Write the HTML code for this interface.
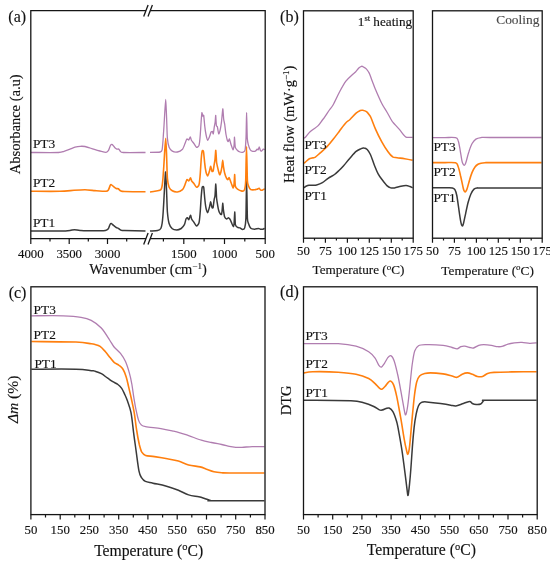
<!DOCTYPE html>
<html><head><meta charset="utf-8"><title>Figure</title>
<style>
html,body{margin:0;padding:0;background:#fff;}
svg{display:block;font-family:"Liberation Serif","Times New Roman",serif;}
</style></head><body>
<svg width="550" height="563" viewBox="0 0 550 563">
<rect width="550" height="563" fill="#fff"/>
<path d="M31.0,231.0C34.5,231.0 55.3,231.1 60.0,231.0C64.7,230.9 68.3,230.6 70.0,230.4C71.7,230.2 73.3,229.7 74.5,229.7C75.7,229.7 78.1,230.3 80.0,230.4C81.9,230.5 87.0,230.8 90.0,230.8C93.0,230.8 103.2,230.7 105.4,230.4C107.6,230.1 107.7,229.4 108.3,228.7C108.9,228.0 109.7,224.9 110.1,224.3C110.5,223.7 110.9,223.5 111.3,223.6C111.7,223.7 113.0,225.0 113.6,225.5C114.2,226.0 115.6,227.2 116.2,227.5C116.8,227.8 117.8,228.0 118.3,228.3C118.8,228.6 119.9,229.7 120.6,230.0C121.3,230.3 121.5,230.5 124.5,230.6C127.5,230.7 143.0,230.9 145.5,230.9" stroke="#3A3A3A" stroke-width="1.5" fill="none" stroke-linejoin="round"/>
<path d="M150.0,231.1C150.8,231.0 156.5,230.8 157.6,230.5C158.7,230.2 160.4,229.2 160.8,228.5C161.2,227.8 161.8,225.5 162.1,223.5C162.4,221.5 163.2,211.9 163.4,208.2C163.7,204.5 164.4,190.1 164.6,186.5C164.8,182.9 165.4,171.6 165.6,171.9C165.8,172.2 166.3,185.1 166.5,189.1C166.7,193.1 167.1,208.6 167.4,212.0C167.7,215.4 168.6,221.8 169.1,223.5C169.6,225.2 171.5,228.1 172.3,228.8C173.1,229.5 175.8,230.1 176.7,230.1C177.6,230.1 180.4,229.0 181.2,228.5C182.0,228.0 183.9,225.6 184.4,224.7C184.9,223.8 185.7,219.7 186.0,219.0C186.3,218.3 187.0,217.6 187.3,217.7C187.6,217.8 188.5,219.8 188.8,219.6C189.1,219.3 190.2,215.3 190.5,215.2C190.8,215.1 191.3,218.3 191.6,219.0C191.9,219.7 193.4,221.5 193.9,222.2C194.4,222.9 196.0,225.9 196.5,226.0C197.0,226.1 198.6,224.3 199.0,222.8C199.4,221.3 200.1,213.4 200.3,210.7C200.5,208.0 201.1,197.8 201.3,195.5C201.5,193.2 202.0,188.0 202.2,187.2C202.4,186.4 203.4,186.1 203.7,187.2C203.9,188.3 204.5,195.9 204.7,198.0C204.9,200.1 205.7,206.7 206.0,208.2C206.3,209.7 207.3,212.8 207.7,212.6C208.1,212.4 209.3,207.7 209.6,206.6C209.9,205.5 210.5,201.7 210.7,201.8C210.9,201.9 211.8,206.9 212.0,207.5C212.2,208.1 212.9,208.3 213.1,207.5C213.3,206.7 214.0,200.5 214.2,199.3C214.4,198.1 214.8,197.3 215.0,195.8C215.2,194.3 215.6,183.8 215.8,184.0C216.0,184.2 216.4,196.1 216.6,198.3C216.8,200.5 217.5,204.3 217.7,205.6C217.9,206.9 218.7,210.7 219.0,211.5C219.3,212.3 220.1,213.6 220.3,213.9C220.6,214.2 221.3,214.9 221.5,214.5C221.7,214.1 222.1,210.6 222.2,209.5C222.3,208.4 222.7,203.2 222.8,203.3C222.9,203.4 223.3,209.3 223.5,210.7C223.7,212.1 224.4,216.3 224.7,217.1C225.0,217.9 226.2,218.9 226.6,219.0C227.0,219.1 228.2,217.7 228.5,217.7C228.8,217.7 229.5,218.6 229.8,219.0C230.1,219.4 231.0,221.4 231.3,222.2C231.7,223.0 233.0,226.5 233.3,226.6C233.6,226.7 233.9,225.0 234.1,223.5C234.2,222.0 234.7,211.9 234.8,212.0C234.9,212.1 235.1,223.2 235.4,224.7C235.7,226.2 237.0,227.0 237.5,227.3C238.0,227.6 239.5,227.7 240.0,227.9C240.5,228.1 242.0,229.6 242.5,229.6C243.0,229.6 244.4,229.0 244.7,227.9C245.0,226.8 245.7,223.1 245.9,218.4C246.1,213.7 246.4,180.6 246.6,180.6C246.8,180.6 247.2,214.1 247.4,218.4C247.6,222.7 248.2,222.5 248.5,223.5C248.8,224.5 250.2,227.7 250.8,228.3C251.4,228.9 253.8,229.2 254.6,229.2C255.4,229.2 257.9,228.5 258.5,228.5C259.1,228.5 260.0,229.1 260.4,229.2C260.8,229.3 262.5,229.3 262.9,229.2C263.3,229.1 264.4,228.4 264.6,228.3" stroke="#3A3A3A" stroke-width="1.5" fill="none" stroke-linejoin="round"/>
<path d="M31.0,191.3C34.5,191.3 54.8,191.4 60.0,191.3C65.2,191.2 71.0,190.5 74.0,190.3C77.0,190.1 82.5,189.8 85.0,189.8C87.5,189.8 92.5,190.4 95.0,190.6C97.5,190.8 104.4,191.4 106.0,191.3C107.6,191.2 108.0,190.5 108.5,189.8C109.0,189.1 109.9,186.0 110.2,185.4C110.5,184.8 110.9,184.6 111.3,184.7C111.7,184.8 113.0,186.1 113.6,186.6C114.2,187.1 115.6,188.2 116.2,188.5C116.8,188.8 117.8,188.5 118.3,188.8C118.8,189.1 119.9,190.5 120.6,190.8C121.3,191.1 121.5,191.4 124.5,191.5C127.5,191.6 143.0,191.7 145.5,191.7" stroke="#FF7F0E" stroke-width="1.6" fill="none" stroke-linejoin="round"/>
<path d="M150.0,192.0C150.8,191.9 156.5,191.0 157.6,190.8C158.7,190.6 160.4,190.3 160.8,189.8C161.2,189.3 161.8,187.8 162.1,186.0C162.4,184.2 163.2,175.3 163.4,172.0C163.7,168.7 164.4,156.3 164.6,152.9C164.8,149.5 165.5,138.3 165.7,138.3C165.9,138.3 166.3,148.9 166.5,152.9C166.7,156.9 167.1,175.0 167.4,178.4C167.7,181.8 168.6,186.1 169.1,187.3C169.6,188.5 171.5,190.3 172.3,190.8C173.1,191.3 176.4,192.1 177.4,192.0C178.4,191.9 181.7,190.3 182.5,189.6C183.3,188.9 184.6,185.7 185.0,184.7C185.4,183.7 186.5,180.0 186.9,179.6C187.3,179.2 188.4,181.1 188.8,180.9C189.2,180.7 190.2,177.7 190.5,177.7C190.8,177.7 191.3,180.3 191.6,180.9C191.9,181.5 193.4,182.9 193.9,183.5C194.4,184.1 196.0,187.2 196.5,187.3C197.0,187.4 198.6,186.1 199.0,184.7C199.4,183.3 200.1,176.0 200.3,173.3C200.5,170.6 201.1,160.2 201.3,158.0C201.5,155.8 202.0,151.6 202.2,151.0C202.4,150.4 203.2,150.4 203.5,151.6C203.8,152.8 204.4,161.1 204.7,163.1C204.9,165.1 205.7,170.7 206.0,172.0C206.3,173.3 207.3,176.1 207.7,176.0C208.1,175.9 209.3,171.7 209.6,170.7C209.9,169.7 210.5,166.2 210.7,166.3C210.9,166.4 211.8,171.0 212.0,171.4C212.2,171.8 213.0,171.4 213.2,170.7C213.4,170.0 214.0,165.5 214.2,164.4C214.4,163.3 214.8,161.0 215.0,159.6C215.2,158.2 215.6,150.1 215.8,150.4C216.0,150.7 216.4,160.8 216.6,162.5C216.8,164.2 217.3,166.0 217.5,166.9C217.7,167.8 218.4,170.7 218.6,171.5C218.8,172.3 219.6,174.8 219.8,174.8C220.0,174.9 220.7,172.8 220.9,172.0C221.1,171.2 221.7,168.1 221.9,166.9C222.1,165.7 222.5,160.3 222.7,160.3C222.9,160.3 223.3,165.6 223.5,166.9C223.7,168.2 224.4,172.2 224.7,173.3C225.0,174.5 226.3,177.8 226.6,178.4C226.9,179.0 227.6,179.7 227.9,179.6C228.2,179.5 228.9,177.4 229.2,177.7C229.5,178.0 230.7,181.8 231.1,182.8C231.5,183.8 232.7,187.7 233.0,187.9C233.3,188.1 233.8,186.0 234.0,184.7C234.2,183.4 234.6,174.4 234.7,174.5C234.8,174.6 235.0,184.5 235.3,186.0C235.6,187.5 236.8,188.7 237.5,189.2C238.2,189.7 241.2,191.0 241.9,191.1C242.6,191.2 244.1,190.8 244.5,189.8C244.9,188.8 245.5,185.2 245.7,180.9C245.9,176.6 246.3,146.5 246.5,146.5C246.7,146.5 247.2,177.0 247.4,180.9C247.6,184.8 248.2,185.1 248.5,186.0C248.8,186.9 250.2,189.2 250.8,189.6C251.4,190.0 254.0,189.8 254.6,189.8C255.2,189.8 256.8,189.3 257.2,189.2C257.6,189.0 258.8,188.2 259.1,188.3C259.4,188.4 260.1,189.6 260.4,189.8C260.7,190.0 261.9,190.2 262.3,190.1C262.7,190.0 264.4,188.9 264.6,188.8" stroke="#FF7F0E" stroke-width="1.6" fill="none" stroke-linejoin="round"/>
<path d="M31.0,152.5C34.3,152.5 54.5,152.6 58.5,152.5C62.5,152.4 62.6,151.7 64.0,151.3C65.4,150.9 68.7,149.6 70.0,149.1C71.3,148.6 73.8,147.5 75.0,147.2C76.2,146.9 79.0,146.4 80.2,146.3C81.4,146.2 83.8,146.3 85.0,146.5C86.2,146.7 88.8,147.6 90.0,148.0C91.2,148.4 94.0,149.3 95.2,149.7C96.4,150.1 98.7,150.7 100.0,151.0C101.3,151.3 105.0,152.4 106.0,152.3C107.0,152.2 108.0,151.2 108.5,150.4C109.0,149.6 110.0,146.0 110.5,145.3C111.0,144.6 111.9,144.3 112.4,144.6C112.9,144.9 114.4,147.3 114.9,147.8C115.4,148.3 116.3,148.9 116.8,149.1C117.3,149.3 118.2,148.8 118.7,149.1C119.2,149.4 120.1,151.2 120.6,151.6C121.1,152.0 120.2,152.4 123.2,152.5C126.2,152.6 142.8,152.5 145.5,152.5" stroke="#B07DB0" stroke-width="1.3" fill="none" stroke-linejoin="round"/>
<path d="M150.0,152.4C151.0,152.4 159.0,152.3 160.2,152.0C161.4,151.7 161.8,151.6 162.1,149.8C162.4,148.1 163.2,137.9 163.4,134.5C163.7,131.1 164.4,119.0 164.6,115.5C164.8,112.0 165.5,99.5 165.7,99.5C165.9,99.5 166.3,111.6 166.5,115.5C166.7,119.4 167.1,135.2 167.4,138.4C167.7,141.6 168.6,146.0 169.1,147.3C169.6,148.6 171.5,150.6 172.3,151.1C173.1,151.6 176.4,152.2 177.4,152.0C178.4,151.8 181.7,150.0 182.5,149.2C183.3,148.3 184.6,144.5 185.0,143.5C185.4,142.5 186.5,139.3 186.9,139.0C187.3,138.7 188.5,140.2 188.8,140.0C189.1,139.8 190.0,136.8 190.3,136.8C190.6,136.8 191.0,139.6 191.4,140.3C191.8,141.0 193.4,142.8 193.9,143.5C194.4,144.2 196.0,147.1 196.5,147.3C197.0,147.5 198.6,146.7 199.0,145.4C199.4,144.1 200.1,137.1 200.3,134.5C200.5,131.9 201.1,121.5 201.3,119.3C201.5,117.1 201.8,113.0 201.9,112.7C202.1,112.4 202.6,115.8 202.8,116.1C203.0,116.4 203.5,114.5 203.7,115.5C203.9,116.5 204.5,123.7 204.7,125.6C204.9,127.5 205.7,133.0 206.0,134.5C206.3,136.0 207.3,140.2 207.7,140.3C208.1,140.4 209.5,136.6 209.8,135.8C210.1,135.0 210.8,132.4 211.1,132.0C211.4,131.6 212.2,131.2 212.4,131.4C212.6,131.6 213.1,134.3 213.3,133.9C213.5,133.5 214.1,128.1 214.3,126.9C214.5,125.7 215.1,122.9 215.2,121.8C215.3,120.7 215.6,115.1 215.7,115.5C215.8,115.9 216.2,124.5 216.4,125.6C216.6,126.7 217.2,126.0 217.4,126.8C217.6,127.6 218.4,133.5 218.7,133.9C219.0,134.3 219.7,131.9 220.0,130.7C220.3,129.5 221.2,124.0 221.5,121.8C221.8,119.6 222.6,109.0 222.8,108.8C223.0,108.5 223.5,117.7 223.7,119.3C223.9,120.9 224.5,122.9 224.7,124.4C224.9,125.9 225.7,132.9 226.0,134.5C226.3,136.1 227.1,139.6 227.3,140.3C227.5,141.0 228.1,141.6 228.3,141.5C228.5,141.4 229.1,138.7 229.4,139.0C229.7,139.3 230.7,143.6 231.1,144.7C231.5,145.8 232.7,149.7 233.0,149.8C233.3,149.9 233.8,147.3 234.0,146.0C234.2,144.7 234.4,137.0 234.5,137.1C234.6,137.2 235.0,146.0 235.3,147.3C235.6,148.6 237.0,150.0 237.5,150.5C238.0,151.0 239.4,151.8 240.0,152.0C240.6,152.2 242.7,152.3 243.2,152.1C243.7,151.9 244.8,151.2 245.1,149.8C245.4,148.4 245.8,142.2 246.0,138.4C246.2,134.7 246.5,112.3 246.6,112.3C246.7,112.3 247.1,135.2 247.3,138.4C247.5,141.6 248.0,143.6 248.3,144.7C248.6,145.8 249.8,149.1 250.2,149.8C250.6,150.5 252.2,151.2 252.7,151.3C253.2,151.4 254.9,151.3 255.3,151.1C255.8,150.9 256.9,149.3 257.2,149.2C257.5,149.1 258.0,150.0 258.2,149.8C258.4,149.6 259.1,146.9 259.3,147.0C259.5,147.1 260.2,150.1 260.4,150.5C260.6,150.9 261.3,151.2 261.6,151.1C261.9,151.0 263.0,149.3 263.3,149.2C263.6,149.1 264.5,149.7 264.6,149.8" stroke="#B07DB0" stroke-width="1.3" fill="none" stroke-linejoin="round"/>
<path d="M303.9,187.8C304.2,187.6 305.1,186.7 306.0,186.3C306.9,185.9 307.8,185.5 309.0,185.3C310.2,185.1 311.7,185.3 313.0,185.2C314.3,185.1 315.0,185.3 316.6,184.9C318.2,184.5 320.5,183.8 322.4,182.7C324.3,181.6 326.1,179.7 328.1,178.3C330.1,176.9 332.6,175.9 334.5,174.5C336.4,173.1 338.0,171.4 339.5,170.0C341.0,168.6 341.7,167.9 343.4,166.0C345.1,164.1 347.6,160.8 349.7,158.4C351.8,156.0 354.2,153.0 356.1,151.4C358.0,149.8 359.9,149.2 361.2,148.6C362.5,148.0 363.0,147.9 364.0,148.1C365.0,148.2 366.1,148.4 367.2,149.5C368.3,150.6 369.2,152.0 370.4,154.5C371.6,157.0 372.9,161.5 374.2,164.7C375.5,167.9 376.7,171.2 378.0,173.6C379.3,176.0 380.3,177.3 381.8,179.3C383.3,181.3 385.4,184.2 386.9,185.6C388.4,187.0 389.4,187.5 390.7,187.9C392.0,188.3 392.8,188.2 394.5,187.9C396.2,187.6 399.0,186.7 400.9,186.3C402.8,185.9 404.5,185.6 406.0,185.6C407.5,185.6 408.7,186.1 409.8,186.5C410.9,186.9 412.1,187.6 412.6,187.8" stroke="#3A3A3A" stroke-width="1.5" fill="none" stroke-linejoin="round"/>
<path d="M303.9,163.2C304.0,163.1 303.6,163.5 304.5,162.8C305.4,162.1 307.8,159.8 309.0,159.0C310.2,158.2 310.9,158.3 312.0,158.0C313.1,157.7 314.0,158.0 315.4,157.1C316.8,156.2 318.6,154.3 320.5,152.6C322.4,150.9 324.7,149.1 326.8,146.9C328.9,144.7 331.1,142.0 333.2,139.3C335.3,136.7 337.4,133.8 339.5,131.0C341.6,128.2 344.1,124.6 345.9,122.7C347.6,120.8 348.3,121.1 350.0,119.5C351.7,117.9 354.4,114.6 356.1,113.1C357.8,111.6 359.1,111.1 360.2,110.6C361.3,110.1 361.6,110.1 362.7,110.3C363.8,110.5 365.3,110.8 366.5,111.7C367.7,112.6 368.9,114.4 369.7,115.5C370.5,116.6 370.3,116.2 371.3,118.5C372.3,120.8 373.8,125.2 375.5,129.1C377.2,133.0 379.7,138.0 381.8,141.8C383.9,145.6 386.4,149.5 388.2,152.0C390.0,154.5 391.1,155.9 392.6,156.8C394.1,157.8 395.1,157.4 397.1,157.7C399.1,158.0 402.1,158.3 404.7,158.7C407.3,159.1 411.3,160.0 412.6,160.3" stroke="#FF7F0E" stroke-width="1.6" fill="none" stroke-linejoin="round"/>
<path d="M303.9,138.0C304.1,137.9 304.3,138.2 305.2,137.4C306.1,136.6 307.7,134.2 309.0,132.9C310.3,131.6 311.5,130.7 313.0,129.5C314.5,128.3 316.3,127.5 317.9,125.9C319.5,124.3 321.3,121.4 322.4,120.0C323.5,118.6 323.1,119.3 324.3,117.6C325.5,115.9 327.9,112.2 329.4,110.0C330.9,107.8 331.5,107.7 333.2,104.7C334.9,101.7 337.4,95.9 339.5,92.0C341.6,88.1 343.8,84.1 345.9,81.2C348.0,78.3 350.7,76.3 352.3,74.8C353.9,73.3 354.4,73.1 355.5,72.0C356.6,70.9 357.8,69.0 358.8,68.0C359.8,67.0 360.7,66.5 361.5,66.3C362.3,66.1 362.7,66.5 363.5,67.0C364.3,67.5 365.6,68.1 366.5,69.1C367.4,70.1 368.1,70.9 369.1,72.9C370.1,74.9 371.2,78.4 372.3,81.2C373.4,84.0 373.9,85.8 375.5,89.5C377.1,93.2 379.9,99.8 381.8,103.5C383.7,107.2 385.0,108.8 386.6,111.5C388.2,114.2 390.3,118.1 391.4,120.0C392.5,121.9 391.9,121.1 393.3,122.7C394.7,124.3 397.9,127.7 399.6,129.7C401.3,131.7 402.4,133.6 403.5,134.8C404.6,136.0 405.1,136.7 406.0,137.1C406.9,137.5 407.9,137.3 409.0,137.4C410.1,137.5 412.0,137.4 412.6,137.4" stroke="#B07DB0" stroke-width="1.3" fill="none" stroke-linejoin="round"/>
<path d="M433.0,187.8C435.0,187.8 441.8,187.8 445.0,187.8C448.2,187.8 450.8,187.6 452.4,187.9C454.0,188.2 454.2,188.4 454.9,189.7C455.6,191.0 456.2,192.4 456.8,195.5C457.4,198.6 458.1,204.0 458.7,208.2C459.3,212.4 460.1,218.1 460.6,220.9C461.1,223.7 461.3,224.2 461.6,225.0C461.9,225.8 462.1,226.0 462.3,226.0C462.5,226.0 462.8,225.6 463.0,225.0C463.2,224.4 463.4,224.1 463.8,222.2C464.2,220.2 464.9,216.7 465.7,213.3C466.4,209.9 467.4,205.0 468.3,201.8C469.2,198.6 469.9,196.3 470.8,194.2C471.8,192.1 472.9,190.1 474.0,189.1C475.1,188.1 475.4,188.1 477.2,187.9C479.0,187.7 474.3,187.9 485.0,187.9C495.7,187.9 532.2,187.9 541.6,187.9" stroke="#3A3A3A" stroke-width="1.5" fill="none" stroke-linejoin="round"/>
<path d="M433.0,162.6C435.0,162.6 441.2,162.6 445.0,162.6C448.8,162.6 453.3,162.2 455.5,162.8C457.7,163.5 457.2,164.3 458.1,166.5C459.0,168.7 459.8,172.4 460.6,176.0C461.5,179.6 462.6,185.5 463.2,188.0C463.8,190.5 463.9,190.3 464.2,191.0C464.5,191.7 464.8,191.9 465.1,191.9C465.4,191.9 465.7,191.5 466.0,191.0C466.3,190.5 466.4,190.9 467.0,189.1C467.6,187.3 468.7,182.9 469.5,180.2C470.3,177.4 471.1,174.8 472.0,172.6C472.9,170.4 474.0,168.4 475.0,167.0C476.0,165.6 477.0,164.9 478.0,164.3C479.0,163.7 479.8,163.5 481.0,163.2C482.2,162.9 482.7,162.8 485.0,162.7C487.3,162.6 485.6,162.6 495.0,162.6C504.4,162.6 533.8,162.6 541.6,162.6" stroke="#FF7F0E" stroke-width="1.6" fill="none" stroke-linejoin="round"/>
<path d="M433.0,137.6C435.0,137.6 441.2,137.6 445.0,137.6C448.8,137.6 453.3,137.2 455.5,137.7C457.7,138.2 457.4,138.5 458.1,140.4C458.9,142.3 459.4,145.9 460.0,149.3C460.6,152.7 461.4,158.2 461.9,160.7C462.4,163.2 462.8,163.5 463.2,164.3C463.6,165.1 463.9,165.4 464.2,165.4C464.5,165.4 464.8,165.1 465.2,164.3C465.6,163.5 465.8,162.8 466.4,160.7C467.0,158.6 467.9,154.7 468.9,151.8C469.8,148.9 470.9,145.6 472.1,143.5C473.3,141.4 474.4,140.1 475.9,139.1C477.4,138.1 478.6,137.9 481.0,137.6C483.4,137.3 479.9,137.5 490.0,137.5C500.1,137.5 533.0,137.5 541.6,137.5" stroke="#B07DB0" stroke-width="1.3" fill="none" stroke-linejoin="round"/>
<path d="M31.4,369.2C38.8,369.2 65.9,368.9 75.9,369.2C85.9,369.4 88.0,370.4 91.2,370.7C94.4,371.0 93.3,370.7 95.0,371.2C96.7,371.7 99.3,372.5 101.4,373.7C103.5,374.9 105.8,376.9 107.7,378.2C109.6,379.5 111.1,380.6 112.8,381.7C114.5,382.8 116.4,383.4 117.9,384.5C119.4,385.6 120.5,386.7 121.7,388.4C122.9,390.1 123.9,392.6 124.9,394.7C125.9,396.8 126.5,398.1 127.5,401.1C128.5,404.1 130.0,407.6 131.0,412.7C132.0,417.8 132.7,425.4 133.5,431.8C134.3,438.2 135.2,444.3 136.1,450.9C137.0,457.5 138.1,466.8 139.0,471.2C139.9,475.6 140.4,475.9 141.5,477.6C142.6,479.3 143.5,480.5 145.4,481.4C147.3,482.3 149.6,482.4 153.0,483.2C156.4,484.0 161.5,484.8 165.7,486.0C169.9,487.2 174.6,488.8 178.4,490.3C182.2,491.8 185.2,493.8 188.6,494.9C192.0,496.0 196.0,496.1 198.8,496.7C201.6,497.3 203.4,498.1 205.2,498.7C207.0,499.3 208.6,499.9 209.7,500.3C210.8,500.7 211.5,500.7 211.8,500.8C212.2,500.9 203.0,500.8 211.8,500.8C220.6,500.8 255.6,500.8 264.4,500.8" stroke="#3A3A3A" stroke-width="1.5" fill="none" stroke-linejoin="round"/>
<path d="M31.4,341.5C38.8,341.6 65.9,341.6 75.9,342.0C85.9,342.4 88.0,343.4 91.2,343.8C94.4,344.2 93.5,344.1 95.0,344.5C96.5,344.9 98.4,345.2 100.1,346.4C101.8,347.6 103.5,349.6 105.2,351.5C106.9,353.4 108.8,356.0 110.3,357.8C111.8,359.6 112.6,361.0 114.1,362.3C115.6,363.6 117.7,364.3 119.2,365.5C120.7,366.7 121.8,367.4 123.0,369.3C124.2,371.2 125.2,373.9 126.2,376.9C127.2,379.9 127.8,383.5 128.7,387.1C129.5,390.7 130.4,394.2 131.3,398.5C132.2,402.8 133.3,407.4 134.2,412.7C135.1,418.0 135.8,425.2 136.7,430.5C137.5,435.8 138.5,440.9 139.3,444.5C140.2,448.1 140.8,450.4 141.8,452.2C142.9,454.0 143.5,454.7 145.6,455.4C147.7,456.1 150.9,456.0 154.5,456.6C158.1,457.2 163.3,458.1 167.3,458.8C171.3,459.5 174.9,460.0 178.4,461.0C181.9,462.0 185.0,463.9 188.6,464.9C192.2,465.9 197.1,466.2 200.1,466.9C203.1,467.6 204.1,468.4 206.4,469.2C208.7,470.0 211.4,471.2 214.0,471.8C216.6,472.4 219.1,472.6 221.7,472.8C224.2,473.0 222.2,473.0 229.3,473.0C236.4,473.0 258.5,473.0 264.4,473.0" stroke="#FF7F0E" stroke-width="1.6" fill="none" stroke-linejoin="round"/>
<path d="M31.4,315.8C36.7,315.8 54.9,315.6 63.2,315.8C71.5,316.1 76.3,316.5 81.0,317.3C85.7,318.1 87.8,318.6 91.2,320.4C94.6,322.2 98.2,324.7 101.3,328.0C104.4,331.3 107.5,336.8 109.6,340.0C111.7,343.2 112.3,344.8 114.1,347.0C115.9,349.2 118.6,351.0 120.5,353.4C122.4,355.8 124.0,358.3 125.5,361.6C127.0,364.9 128.3,369.3 129.4,373.1C130.5,376.9 131.2,380.5 131.9,384.5C132.6,388.5 133.1,393.0 133.8,397.3C134.5,401.6 135.3,406.4 136.1,410.2C136.9,414.0 137.8,418.0 138.6,420.4C139.4,422.8 140.0,423.8 141.2,424.8C142.4,425.9 142.3,426.1 145.6,426.7C148.9,427.3 156.2,427.9 160.9,428.6C165.6,429.4 170.4,430.5 173.6,431.2C176.8,431.9 177.5,432.1 180.0,432.8C182.5,433.5 185.0,434.4 188.6,435.6C192.2,436.8 197.5,439.1 201.3,440.2C205.1,441.3 208.1,441.8 211.5,442.5C214.9,443.2 218.7,443.9 221.7,444.5C224.7,445.1 227.0,445.8 229.3,446.3C231.6,446.8 233.6,447.1 235.7,447.3C237.8,447.5 239.2,447.4 242.0,447.3C244.8,447.2 248.5,446.7 252.2,446.6C255.9,446.5 262.4,446.6 264.4,446.6" stroke="#B07DB0" stroke-width="1.3" fill="none" stroke-linejoin="round"/>
<path d="M303.9,400.2C310.5,400.3 342.5,400.3 350.9,400.7C359.3,401.1 360.4,401.9 363.6,402.7C366.8,403.5 371.7,405.5 373.8,406.5C375.9,407.5 377.8,409.1 378.9,409.6C380.0,410.1 380.9,410.3 381.9,410.1C382.9,409.9 385.0,408.8 386.0,408.5C387.0,408.2 388.1,407.6 389.1,408.0C390.1,408.4 391.8,409.7 392.9,411.6C394.0,413.5 395.8,418.7 396.7,421.8C397.6,424.9 398.4,429.7 399.2,434.1C400.0,438.5 401.6,447.6 402.4,453.3C403.2,459.0 404.5,469.2 405.2,474.6C405.9,480.0 406.9,488.8 407.3,491.7C407.7,494.6 407.8,496.2 408.1,495.3C408.4,494.4 409.0,489.1 409.4,485.3C409.8,481.5 410.5,473.6 410.9,468.2C411.3,462.8 412.0,452.6 412.4,446.9C412.8,441.2 413.6,432.3 414.1,427.7C414.6,423.1 415.6,416.9 416.2,413.9C416.8,410.9 417.7,407.6 418.4,406.0C419.1,404.4 420.4,403.0 421.5,402.4C422.6,401.8 423.8,401.7 426.5,401.9C429.2,402.1 437.1,403.0 440.5,403.5C443.9,404.0 448.6,404.8 450.7,405.2C452.8,405.6 454.0,406.2 455.8,406.0C457.6,405.8 461.4,404.1 463.4,403.5C465.4,402.9 468.6,401.4 469.8,401.4C471.0,401.4 471.4,403.1 472.3,403.5C473.2,403.9 475.0,404.4 476.2,404.5C477.4,404.6 479.6,404.5 480.7,404.0C481.8,403.5 483.0,401.2 483.8,400.7C484.6,400.2 478.9,400.3 486.3,400.2C493.7,400.1 529.6,400.2 536.6,400.2" stroke="#3A3A3A" stroke-width="1.5" fill="none" stroke-linejoin="round"/>
<path d="M303.9,372.9C305.1,372.7 307.9,371.8 312.7,371.7C317.5,371.6 332.1,371.8 338.2,372.2C344.3,372.6 351.7,373.3 356.0,374.2C360.3,375.1 366.0,377.2 368.7,378.5C371.4,379.8 373.6,382.2 375.1,383.6C376.6,385.0 378.4,387.4 379.4,388.2C380.4,389.0 381.1,389.5 381.9,389.2C382.7,388.9 384.3,387.2 385.2,386.2C386.1,385.2 387.5,383.0 388.3,382.3C389.1,381.6 390.1,380.7 390.8,381.1C391.5,381.5 392.8,382.8 393.6,384.9C394.4,387.0 395.7,391.8 396.7,396.3C397.7,400.8 399.4,410.6 400.5,416.7C401.6,422.8 403.5,435.0 404.3,439.6C405.1,444.2 405.9,447.7 406.4,449.8C406.9,451.9 407.4,454.7 407.8,454.3C408.2,453.9 408.9,452.0 409.5,447.2C410.1,442.4 411.3,427.3 412.0,420.0C412.7,412.7 413.8,400.3 414.5,395.0C415.2,389.7 416.0,384.7 416.7,382.0C417.4,379.3 418.5,377.2 419.6,376.0C420.7,374.8 423.2,374.0 424.7,373.6C426.2,373.2 427.8,372.9 430.4,372.9C433.0,372.9 440.1,373.5 443.1,373.9C446.1,374.3 450.0,375.5 452.0,376.0C454.0,376.5 455.7,377.6 457.1,377.3C458.5,377.0 460.8,374.8 462.2,374.2C463.6,373.6 465.9,372.9 467.3,372.9C468.7,372.9 470.9,373.7 472.3,374.2C473.7,374.7 476.0,376.2 477.4,376.5C478.8,376.8 481.1,376.9 482.5,376.5C483.9,376.1 486.0,374.0 487.6,373.4C489.2,372.8 490.6,372.6 494.0,372.4C497.4,372.2 505.8,372.0 511.8,371.9C517.8,371.8 533.1,371.7 536.6,371.7" stroke="#FF7F0E" stroke-width="1.6" fill="none" stroke-linejoin="round"/>
<path d="M303.9,343.7C308.7,343.7 330.9,343.3 338.2,343.7C345.5,344.1 351.7,345.1 356.0,346.2C360.3,347.3 366.0,350.1 368.7,351.8C371.4,353.5 373.7,356.3 375.1,358.2C376.5,360.1 378.0,364.1 378.9,365.3C379.8,366.5 380.6,367.4 381.4,367.1C382.2,366.8 383.6,364.6 384.5,363.3C385.4,362.0 386.9,358.8 387.8,357.7C388.7,356.6 389.9,355.2 390.8,355.6C391.7,356.0 393.1,357.8 394.1,360.7C395.1,363.6 396.9,371.0 398.0,376.0C399.1,381.0 400.9,391.5 401.8,396.3C402.7,401.1 403.8,407.7 404.3,410.3C404.8,412.9 405.2,415.4 405.7,414.9C406.2,414.4 407.0,410.5 407.6,406.5C408.2,402.5 409.3,392.1 409.9,386.2C410.5,380.3 411.5,369.4 412.2,364.5C412.9,359.6 413.8,353.6 414.7,351.0C415.6,348.4 417.0,346.7 418.5,345.8C420.0,344.9 421.9,344.8 425.3,344.7C428.7,344.6 439.4,345.0 443.1,345.4C446.8,345.8 450.0,347.0 452.0,347.5C454.0,348.0 455.9,348.9 457.1,348.8C458.3,348.7 459.8,347.1 460.9,346.7C462.0,346.3 463.5,346.1 464.7,346.2C465.9,346.3 468.6,347.2 469.8,347.5C471.0,347.8 472.4,348.3 473.6,348.0C474.8,347.7 477.3,345.9 478.7,345.4C480.1,344.9 482.0,344.7 483.8,344.7C485.6,344.7 489.4,345.1 491.4,345.4C493.4,345.7 496.2,346.6 497.8,346.7C499.4,346.8 501.5,346.6 502.9,346.2C504.3,345.8 506.4,344.7 508.0,344.2C509.6,343.7 512.3,343.2 514.3,342.9C516.3,342.6 519.9,342.3 522.0,342.4C524.1,342.5 527.6,343.3 529.6,343.4C531.6,343.5 535.6,343.0 536.6,342.9" stroke="#B07DB0" stroke-width="1.3" fill="none" stroke-linejoin="round"/>
<path d="M146,10.7L30.8,10.7L30.8,238.7L146,238.7M150.3,238.7L265.2,238.7L265.2,10.7L150.3,10.7" stroke="#151515" stroke-width="1.3" fill="none" stroke-linejoin="miter"/>
<path d="M143.7,16.5L148.1,5.1" stroke="#151515" stroke-width="1.3" fill="none"/>
<path d="M148.0,16.5L152.4,5.1" stroke="#151515" stroke-width="1.3" fill="none"/>
<path d="M143.7,244.5L148.1,233.1" stroke="#151515" stroke-width="1.3" fill="none"/>
<path d="M148.0,244.5L152.4,233.1" stroke="#151515" stroke-width="1.3" fill="none"/>
<rect x="303.5" y="10.8" width="109.7" height="227.4" stroke="#151515" stroke-width="1.3" fill="none"/>
<rect x="432.5" y="10.8" width="109.7" height="227.4" stroke="#151515" stroke-width="1.3" fill="none"/>
<rect x="30.9" y="286.8" width="234.1" height="227.8" stroke="#151515" stroke-width="1.3" fill="none"/>
<rect x="303.5" y="286.8" width="233.7" height="227.8" stroke="#151515" stroke-width="1.3" fill="none"/>
<path d="M30.8,238.7v5.3M69.2,238.7v5.3M107.5,238.7v5.3" stroke="#151515" stroke-width="1.2" fill="none"/>
<path d="M50.0,238.7v2.8M88.3,238.7v2.8M126.7,238.7v2.8" stroke="#151515" stroke-width="1.2" fill="none"/>
<path d="M265.2,238.7v5.3M224.5,238.7v5.3M183.8,238.7v5.3" stroke="#151515" stroke-width="1.2" fill="none"/>
<path d="M244.8,238.7v2.8M204.1,238.7v2.8M163.4,238.7v2.8" stroke="#151515" stroke-width="1.2" fill="none"/>
<text x="30.8" y="258.3" font-size="12.8" text-anchor="middle" fill="#111" stroke="#111" stroke-width="0.14" >4000</text>
<text x="69.2" y="258.3" font-size="12.8" text-anchor="middle" fill="#111" stroke="#111" stroke-width="0.14" >3500</text>
<text x="107.5" y="258.3" font-size="12.8" text-anchor="middle" fill="#111" stroke="#111" stroke-width="0.14" >3000</text>
<text x="265.2" y="258.3" font-size="12.8" text-anchor="middle" fill="#111" stroke="#111" stroke-width="0.14" >500</text>
<text x="224.5" y="258.3" font-size="12.8" text-anchor="middle" fill="#111" stroke="#111" stroke-width="0.14" >1000</text>
<text x="183.8" y="258.3" font-size="12.8" text-anchor="middle" fill="#111" stroke="#111" stroke-width="0.14" >1500</text>
<path d="M303.5,238.2v4.5M325.4,238.2v4.5M347.4,238.2v4.5M369.3,238.2v4.5M391.3,238.2v4.5M413.2,238.2v4.5" stroke="#151515" stroke-width="1.2" fill="none"/>
<path d="M314.5,238.2v2.4M336.4,238.2v2.4M358.4,238.2v2.4M380.3,238.2v2.4M402.2,238.2v2.4" stroke="#151515" stroke-width="1.2" fill="none"/>
<text x="303.5" y="255.2" font-size="12.8" text-anchor="middle" fill="#111" stroke="#111" stroke-width="0.14" >50</text>
<text x="325.4" y="255.2" font-size="12.8" text-anchor="middle" fill="#111" stroke="#111" stroke-width="0.14" >75</text>
<text x="347.4" y="255.2" font-size="12.8" text-anchor="middle" fill="#111" stroke="#111" stroke-width="0.14" >100</text>
<text x="369.3" y="255.2" font-size="12.8" text-anchor="middle" fill="#111" stroke="#111" stroke-width="0.14" >125</text>
<text x="391.3" y="255.2" font-size="12.8" text-anchor="middle" fill="#111" stroke="#111" stroke-width="0.14" >150</text>
<text x="413.2" y="255.2" font-size="12.8" text-anchor="middle" fill="#111" stroke="#111" stroke-width="0.14" >175</text>
<path d="M432.5,238.2v4.5M454.4,238.2v4.5M476.4,238.2v4.5M498.3,238.2v4.5M520.3,238.2v4.5M542.2,238.2v4.5" stroke="#151515" stroke-width="1.2" fill="none"/>
<path d="M443.5,238.2v2.4M465.4,238.2v2.4M487.4,238.2v2.4M509.3,238.2v2.4M531.2,238.2v2.4" stroke="#151515" stroke-width="1.2" fill="none"/>
<text x="432.5" y="255.2" font-size="12.8" text-anchor="middle" fill="#111" stroke="#111" stroke-width="0.14" >50</text>
<text x="454.4" y="255.2" font-size="12.8" text-anchor="middle" fill="#111" stroke="#111" stroke-width="0.14" >75</text>
<text x="476.4" y="255.2" font-size="12.8" text-anchor="middle" fill="#111" stroke="#111" stroke-width="0.14" >100</text>
<text x="498.3" y="255.2" font-size="12.8" text-anchor="middle" fill="#111" stroke="#111" stroke-width="0.14" >125</text>
<text x="520.3" y="255.2" font-size="12.8" text-anchor="middle" fill="#111" stroke="#111" stroke-width="0.14" >150</text>
<text x="542.2" y="255.2" font-size="12.8" text-anchor="middle" fill="#111" stroke="#111" stroke-width="0.14" >175</text>
<path d="M30.9,514.6v5.0M60.2,514.6v5.0M89.4,514.6v5.0M118.7,514.6v5.0M147.9,514.6v5.0M177.2,514.6v5.0M206.5,514.6v5.0M235.7,514.6v5.0M265.0,514.6v5.0" stroke="#151515" stroke-width="1.2" fill="none"/>
<path d="M45.5,514.6v2.8M74.8,514.6v2.8M104.1,514.6v2.8M133.3,514.6v2.8M162.6,514.6v2.8M191.8,514.6v2.8M221.1,514.6v2.8M250.4,514.6v2.8" stroke="#151515" stroke-width="1.2" fill="none"/>
<text x="30.9" y="534.1" font-size="12.8" text-anchor="middle" fill="#111" stroke="#111" stroke-width="0.14" >50</text>
<text x="60.2" y="534.1" font-size="12.8" text-anchor="middle" fill="#111" stroke="#111" stroke-width="0.14" >150</text>
<text x="89.4" y="534.1" font-size="12.8" text-anchor="middle" fill="#111" stroke="#111" stroke-width="0.14" >250</text>
<text x="118.7" y="534.1" font-size="12.8" text-anchor="middle" fill="#111" stroke="#111" stroke-width="0.14" >350</text>
<text x="147.9" y="534.1" font-size="12.8" text-anchor="middle" fill="#111" stroke="#111" stroke-width="0.14" >450</text>
<text x="177.2" y="534.1" font-size="12.8" text-anchor="middle" fill="#111" stroke="#111" stroke-width="0.14" >550</text>
<text x="206.5" y="534.1" font-size="12.8" text-anchor="middle" fill="#111" stroke="#111" stroke-width="0.14" >650</text>
<text x="235.7" y="534.1" font-size="12.8" text-anchor="middle" fill="#111" stroke="#111" stroke-width="0.14" >750</text>
<text x="265.0" y="534.1" font-size="12.8" text-anchor="middle" fill="#111" stroke="#111" stroke-width="0.14" >850</text>
<path d="M303.5,514.6v5.0M332.7,514.6v5.0M361.9,514.6v5.0M391.1,514.6v5.0M420.4,514.6v5.0M449.6,514.6v5.0M478.8,514.6v5.0M508.0,514.6v5.0M537.2,514.6v5.0" stroke="#151515" stroke-width="1.2" fill="none"/>
<path d="M318.1,514.6v2.8M347.3,514.6v2.8M376.5,514.6v2.8M405.7,514.6v2.8M435.0,514.6v2.8M464.2,514.6v2.8M493.4,514.6v2.8M522.6,514.6v2.8" stroke="#151515" stroke-width="1.2" fill="none"/>
<text x="303.5" y="534.1" font-size="12.8" text-anchor="middle" fill="#111" stroke="#111" stroke-width="0.14" >50</text>
<text x="332.7" y="534.1" font-size="12.8" text-anchor="middle" fill="#111" stroke="#111" stroke-width="0.14" >150</text>
<text x="361.9" y="534.1" font-size="12.8" text-anchor="middle" fill="#111" stroke="#111" stroke-width="0.14" >250</text>
<text x="391.1" y="534.1" font-size="12.8" text-anchor="middle" fill="#111" stroke="#111" stroke-width="0.14" >350</text>
<text x="420.4" y="534.1" font-size="12.8" text-anchor="middle" fill="#111" stroke="#111" stroke-width="0.14" >450</text>
<text x="449.6" y="534.1" font-size="12.8" text-anchor="middle" fill="#111" stroke="#111" stroke-width="0.14" >550</text>
<text x="478.8" y="534.1" font-size="12.8" text-anchor="middle" fill="#111" stroke="#111" stroke-width="0.14" >650</text>
<text x="508.0" y="534.1" font-size="12.8" text-anchor="middle" fill="#111" stroke="#111" stroke-width="0.14" >750</text>
<text x="537.2" y="534.1" font-size="12.8" text-anchor="middle" fill="#111" stroke="#111" stroke-width="0.14" >850</text>
<text x="8.3" y="21.6" font-size="16" text-anchor="start" fill="#111" stroke="#111" stroke-width="0.14" >(a)</text>
<text x="280.1" y="22.3" font-size="16" text-anchor="start" fill="#111" stroke="#111" stroke-width="0.14" >(b)</text>
<text x="8.7" y="297.9" font-size="16" text-anchor="start" fill="#111" stroke="#111" stroke-width="0.14" >(c)</text>
<text x="280.1" y="296.6" font-size="16" text-anchor="start" fill="#111" stroke="#111" stroke-width="0.14" >(d)</text>
<text x="148.0" y="273.5" font-size="14.5" text-anchor="middle" fill="#111" stroke="#111" stroke-width="0.14" >Wavenumber (cm<tspan font-size="9" dy="-5">−1</tspan><tspan dy="5">)</tspan></text>
<text x="358.5" y="274.0" font-size="13.2" text-anchor="middle" fill="#111" stroke="#111" stroke-width="0.14" >Temperature (<tspan font-size="9" dy="-4.5">o</tspan><tspan dy="4.5">C)</tspan></text>
<text x="487.6" y="274.6" font-size="13.3" text-anchor="middle" fill="#111" stroke="#111" stroke-width="0.14" >Temperature (<tspan font-size="9" dy="-4.5">o</tspan><tspan dy="4.5">C)</tspan></text>
<text x="148.7" y="555.6" font-size="15.7" text-anchor="middle" fill="#111" stroke="#111" stroke-width="0.14" >Temperature (<tspan font-size="10.5" dy="-5.5">o</tspan><tspan dy="5.5">C)</tspan></text>
<text x="421.3" y="555.0" font-size="15.7" text-anchor="middle" fill="#111" stroke="#111" stroke-width="0.14" >Temperature (<tspan font-size="10.5" dy="-5.5">o</tspan><tspan dy="5.5">C)</tspan></text>
<text transform="translate(19.6,124.3) rotate(-90)" font-size="14.5" text-anchor="middle" fill="#111" stroke="#111" stroke-width="0.14" >Absorbance (a.u)</text>
<text transform="translate(294.4,124.3) rotate(-90)" font-size="14.5" text-anchor="middle" fill="#111" stroke="#111" stroke-width="0.14" >Heat flow (mW·g<tspan font-size="9" dy="-5">−1</tspan><tspan dy="5">)</tspan></text>
<text transform="translate(17.8,399.4) rotate(-90)" font-size="15.5" text-anchor="middle" fill="#111" stroke="#111" stroke-width="0.14" ><tspan font-style="italic">Δm</tspan> (%)</text>
<text transform="translate(291.2,400.3) rotate(-90)" font-size="14.5" text-anchor="middle" fill="#111" stroke="#111" stroke-width="0.14" >DTG</text>
<text x="357.8" y="26.2" font-size="13.2" text-anchor="start" fill="#111" stroke="#111" stroke-width="0.14" >1<tspan font-size="8.5" dy="-5">st</tspan><tspan dy="5"> heating</tspan></text>
<text x="539.4" y="24.4" font-size="13.4" text-anchor="end" fill="#4a4a4a" stroke="#4a4a4a" stroke-width="0.14" >Cooling</text>
<text x="32.9" y="148.0" font-size="13.4" text-anchor="start" fill="#111" stroke="#111" stroke-width="0.14" >PT3</text>
<text x="32.9" y="187.0" font-size="13.4" text-anchor="start" fill="#111" stroke="#111" stroke-width="0.14" >PT2</text>
<text x="32.9" y="226.6" font-size="13.4" text-anchor="start" fill="#111" stroke="#111" stroke-width="0.14" >PT1</text>
<text x="304.4" y="148.6" font-size="13.4" text-anchor="start" fill="#111" stroke="#111" stroke-width="0.14" >PT3</text>
<text x="304.4" y="173.7" font-size="13.4" text-anchor="start" fill="#111" stroke="#111" stroke-width="0.14" >PT2</text>
<text x="304.6" y="200.3" font-size="13.4" text-anchor="start" fill="#111" stroke="#111" stroke-width="0.14" >PT1</text>
<text x="433.4" y="151.3" font-size="13.4" text-anchor="start" fill="#111" stroke="#111" stroke-width="0.14" >PT3</text>
<text x="433.4" y="176.4" font-size="13.4" text-anchor="start" fill="#111" stroke="#111" stroke-width="0.14" >PT2</text>
<text x="433.4" y="201.8" font-size="13.4" text-anchor="start" fill="#111" stroke="#111" stroke-width="0.14" >PT1</text>
<text x="33.6" y="314.2" font-size="13.4" text-anchor="start" fill="#111" stroke="#111" stroke-width="0.14" >PT3</text>
<text x="33.6" y="339.3" font-size="13.4" text-anchor="start" fill="#111" stroke="#111" stroke-width="0.14" >PT2</text>
<text x="34.4" y="367.8" font-size="13.4" text-anchor="start" fill="#111" stroke="#111" stroke-width="0.14" >PT1</text>
<text x="305.4" y="339.7" font-size="13.4" text-anchor="start" fill="#111" stroke="#111" stroke-width="0.14" >PT3</text>
<text x="305.6" y="368.2" font-size="13.4" text-anchor="start" fill="#111" stroke="#111" stroke-width="0.14" >PT2</text>
<text x="305.6" y="396.7" font-size="13.4" text-anchor="start" fill="#111" stroke="#111" stroke-width="0.14" >PT1</text>
</svg>
</body></html>
